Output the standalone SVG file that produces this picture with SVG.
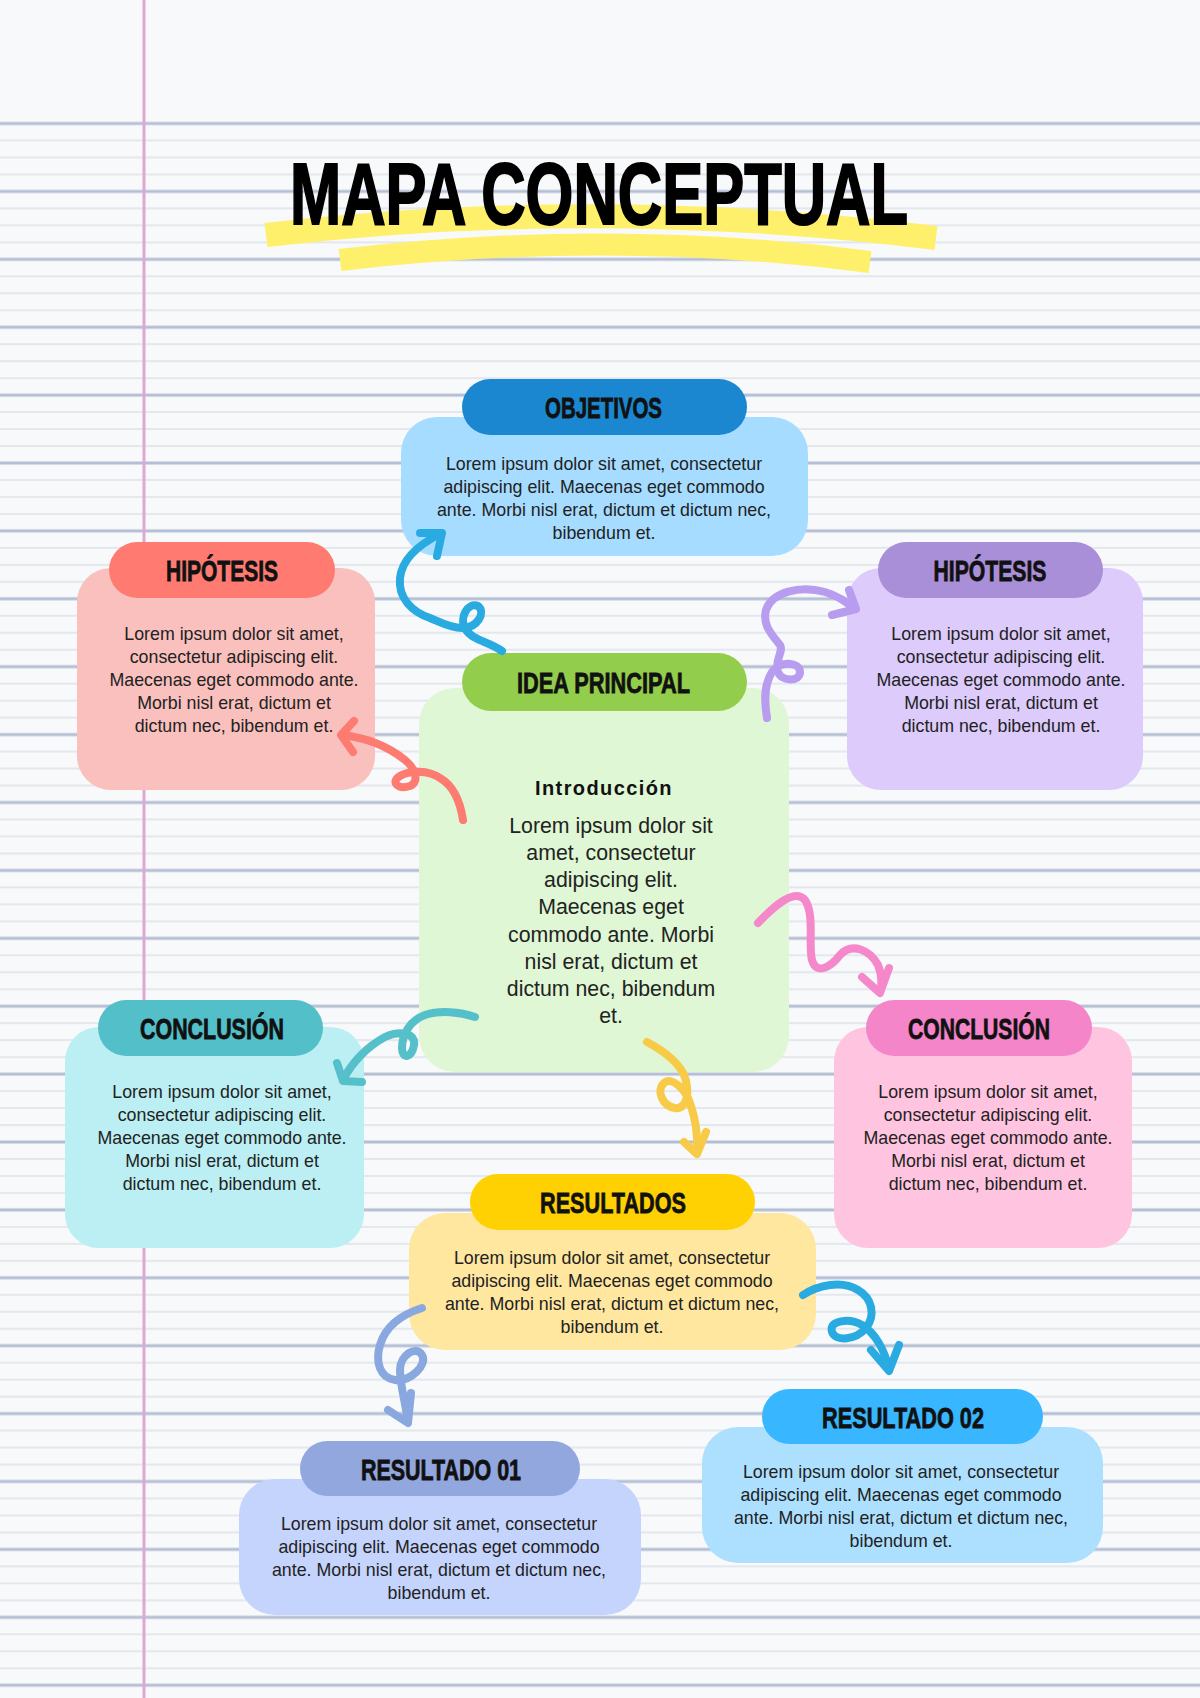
<svg xmlns="http://www.w3.org/2000/svg" width="1200" height="1698" viewBox="0 0 1200 1698">
<defs>
<pattern id="ruled" patternUnits="userSpaceOnUse" x="0" y="115.5" width="1200" height="67.9">
<rect x="0" y="6.5" width="1200" height="3" fill="#b4bfd5"/>
<rect x="0" y="24" width="1200" height="2" fill="#e3e7ee"/>
<rect x="0" y="41" width="1200" height="2" fill="#e3e7ee"/>
<rect x="0" y="58" width="1200" height="2" fill="#e3e7ee"/>
</pattern>
<style>
.hdr{font-family:"Liberation Sans","DejaVu Sans",sans-serif;font-weight:bold;font-size:30px;fill:#111;text-anchor:middle;stroke:#111;stroke-width:0.8}
.body{font-family:"Liberation Sans","DejaVu Sans",sans-serif;font-size:17.8px;fill:#222;text-anchor:middle}
.big{font-family:"Liberation Sans","DejaVu Sans",sans-serif;font-size:21.3px;fill:#222;text-anchor:middle}
.con{fill:none;stroke-width:8;stroke-linecap:round;stroke-linejoin:round}
</style>
</defs>
<rect width="1200" height="1698" fill="#f8f9fa"/>
<rect x="0" y="115.5" width="1200" height="1575" fill="url(#ruled)"/>
<rect x="142.5" y="0" width="3" height="1698" fill="#e2a6d2"/>

<g id="title">
<path d="M266,235 Q600,196 936,238" fill="none" stroke="#fff06b" stroke-width="24" stroke-linecap="butt"/>
<path d="M340,260 Q610,228 870,262" fill="none" stroke="#fff06b" stroke-width="22" stroke-linecap="butt"/>
<text x="599" y="224" font-family="Liberation Sans, DejaVu Sans, sans-serif" font-weight="bold" font-size="88" textLength="618" lengthAdjust="spacingAndGlyphs" text-anchor="middle" fill="#000" stroke="#000" stroke-width="2">MAPA CONCEPTUAL</text>
</g>

<g id="objetivos">
<rect x="401" y="417" width="407" height="139" rx="36" fill="#a6dcff"/>
<rect x="462" y="379" width="285" height="56" rx="28" fill="#1b87d1"/>
<text class="hdr" x="603.5" y="418" textLength="117" lengthAdjust="spacingAndGlyphs">OBJETIVOS</text>
<text class="body" x="604" y="470">Lorem ipsum dolor sit amet, consectetur</text>
<text class="body" x="604" y="493">adipiscing elit. Maecenas eget commodo</text>
<text class="body" x="604" y="516">ante. Morbi nisl erat, dictum et dictum nec,</text>
<text class="body" x="604" y="539">bibendum et.</text>
</g>

<g id="hipotesis-1">
<rect x="77" y="568" width="298" height="222" rx="34" fill="#f9c0bd"/>
<rect x="109" y="542" width="226" height="56" rx="28" fill="#ff7b72"/>
<text class="hdr" x="222" y="581" textLength="112" lengthAdjust="spacingAndGlyphs">HIPÓTESIS</text>
<text class="body" x="234" y="640">Lorem ipsum dolor sit amet,</text>
<text class="body" x="234" y="663">consectetur adipiscing elit.</text>
<text class="body" x="234" y="686">Maecenas eget commodo ante.</text>
<text class="body" x="234" y="709">Morbi nisl erat, dictum et</text>
<text class="body" x="234" y="732">dictum nec, bibendum et.</text>
</g>

<g id="hipotesis-2">
<rect x="847" y="568" width="296" height="222" rx="34" fill="#dccbfb"/>
<rect x="878" y="542" width="225" height="56" rx="28" fill="#a98ed8"/>
<text class="hdr" x="990" y="581" textLength="113" lengthAdjust="spacingAndGlyphs">HIPÓTESIS</text>
<text class="body" x="1001" y="640">Lorem ipsum dolor sit amet,</text>
<text class="body" x="1001" y="663">consectetur adipiscing elit.</text>
<text class="body" x="1001" y="686">Maecenas eget commodo ante.</text>
<text class="body" x="1001" y="709">Morbi nisl erat, dictum et</text>
<text class="body" x="1001" y="732">dictum nec, bibendum et.</text>
</g>

<g id="idea-principal">
<rect x="419" y="688" width="370" height="384" rx="36" fill="#dff7d4"/>
<rect x="462" y="653" width="285" height="58" rx="29" fill="#93cd4c"/>
<text class="hdr" x="603.5" y="693" textLength="173" lengthAdjust="spacingAndGlyphs">IDEA PRINCIPAL</text>
<text x="604" y="795" font-family="Liberation Sans, DejaVu Sans, sans-serif" font-weight="bold" font-size="20" letter-spacing="1.4" text-anchor="middle" fill="#111">Introducción</text>
<text class="big" x="611" y="833">Lorem ipsum dolor sit</text>
<text class="big" x="611" y="860">amet, consectetur</text>
<text class="big" x="611" y="887">adipiscing elit.</text>
<text class="big" x="611" y="914">Maecenas eget</text>
<text class="big" x="611" y="942">commodo ante. Morbi</text>
<text class="big" x="611" y="969">nisl erat, dictum et</text>
<text class="big" x="611" y="996">dictum nec, bibendum</text>
<text class="big" x="611" y="1023">et.</text>
</g>

<g id="conclusion-1">
<rect x="65" y="1027" width="299" height="221" rx="34" fill="#bbeff3"/>
<rect x="98" y="1000" width="225" height="56" rx="28" fill="#53bfc8"/>
<text class="hdr" x="212" y="1039" textLength="144" lengthAdjust="spacingAndGlyphs">CONCLUSIÓN</text>
<text class="body" x="222" y="1098">Lorem ipsum dolor sit amet,</text>
<text class="body" x="222" y="1121">consectetur adipiscing elit.</text>
<text class="body" x="222" y="1144">Maecenas eget commodo ante.</text>
<text class="body" x="222" y="1167">Morbi nisl erat, dictum et</text>
<text class="body" x="222" y="1190">dictum nec, bibendum et.</text>
</g>

<g id="conclusion-2">
<rect x="834" y="1027" width="298" height="221" rx="34" fill="#ffc4e0"/>
<rect x="866" y="1000" width="226" height="56" rx="28" fill="#f585c9"/>
<text class="hdr" x="979" y="1039" textLength="142" lengthAdjust="spacingAndGlyphs">CONCLUSIÓN</text>
<text class="body" x="988" y="1098">Lorem ipsum dolor sit amet,</text>
<text class="body" x="988" y="1121">consectetur adipiscing elit.</text>
<text class="body" x="988" y="1144">Maecenas eget commodo ante.</text>
<text class="body" x="988" y="1167">Morbi nisl erat, dictum et</text>
<text class="body" x="988" y="1190">dictum nec, bibendum et.</text>
</g>

<g id="resultados">
<rect x="409" y="1213" width="407" height="137" rx="36" fill="#ffe7a0"/>
<rect x="470" y="1174" width="285" height="56" rx="28" fill="#ffd102"/>
<text class="hdr" x="613" y="1213" textLength="146" lengthAdjust="spacingAndGlyphs">RESULTADOS</text>
<text class="body" x="612" y="1264">Lorem ipsum dolor sit amet, consectetur</text>
<text class="body" x="612" y="1287">adipiscing elit. Maecenas eget commodo</text>
<text class="body" x="612" y="1310">ante. Morbi nisl erat, dictum et dictum nec,</text>
<text class="body" x="612" y="1333">bibendum et.</text>
</g>

<g id="resultado-01">
<rect x="239" y="1479" width="402" height="136" rx="36" fill="#c5d4fc"/>
<rect x="300" y="1441" width="280" height="55" rx="27.5" fill="#92a7de"/>
<text class="hdr" x="441" y="1480" textLength="160" lengthAdjust="spacingAndGlyphs">RESULTADO 01</text>
<text class="body" x="439" y="1530">Lorem ipsum dolor sit amet, consectetur</text>
<text class="body" x="439" y="1553">adipiscing elit. Maecenas eget commodo</text>
<text class="body" x="439" y="1576">ante. Morbi nisl erat, dictum et dictum nec,</text>
<text class="body" x="439" y="1599">bibendum et.</text>
</g>

<g id="resultado-02">
<rect x="702" y="1427" width="401" height="136" rx="36" fill="#ade0ff"/>
<rect x="762" y="1389" width="281" height="55" rx="27.5" fill="#38b6ff"/>
<text class="hdr" x="903" y="1428" textLength="162" lengthAdjust="spacingAndGlyphs">RESULTADO 02</text>
<text class="body" x="901" y="1478">Lorem ipsum dolor sit amet, consectetur</text>
<text class="body" x="901" y="1501">adipiscing elit. Maecenas eget commodo</text>
<text class="body" x="901" y="1524">ante. Morbi nisl erat, dictum et dictum nec,</text>
<text class="body" x="901" y="1547">bibendum et.</text>
</g>

<g id="connectors">
<path class="con" stroke="#29abe2" d="M502,651 C490,642 472,640 466,630 C458,618 468,602 478,606 C486,612 478,628 462,628 C450,628 440,622 430,618 C412,612 398,598 400,578 C402,560 418,545 440,534"/>
<path class="con" stroke="#29abe2" d="M420,533 L442,533 L437,556"/>
<path class="con" stroke="#b89cf0" d="M767,718 C764,700 764,685 772,672 C780,660 800,662 800,672 C800,682 782,682 778,672 C774,660 784,652 780,645 C772,635 762,625 766,610 C772,592 800,585 825,592 C838,596 847,602 854,609"/>
<path class="con" stroke="#b89cf0" d="M832,615 L856,609 L849,590"/>
<path class="con" stroke="#fd7b70" d="M463,820 C460,800 452,785 440,778 C428,770 410,770 400,776 C390,782 398,790 410,786 C420,782 415,768 405,760 C390,748 370,738 342,735"/>
<path class="con" stroke="#fd7b70" d="M354,721 L341,735 L353,752"/>
<path class="con" stroke="#f587cb" d="M758,923 C775,905 795,888 805,900 C815,915 808,945 812,960 C816,975 830,968 840,955 C852,942 870,950 878,965 C882,975 882,985 880,992"/>
<path class="con" stroke="#f587cb" d="M862,977 L880,993 L889,968"/>
<path class="con" stroke="#55bfca" d="M475,1017 C460,1012 440,1010 425,1015 C410,1020 402,1035 402,1048 C402,1060 412,1058 414,1045 C416,1033 400,1030 385,1037 C368,1046 352,1062 343,1080"/>
<path class="con" stroke="#55bfca" d="M337,1063 L343,1081 L362,1082"/>
<path class="con" stroke="#f7cb47" d="M647,1042 C662,1050 678,1062 684,1075 C690,1090 688,1110 675,1108 C662,1106 656,1090 664,1083 C672,1076 686,1090 690,1103 C696,1120 698,1138 697,1153"/>
<path class="con" stroke="#f7cb47" d="M684,1142 L697,1154 L706,1132"/>
<path class="con" stroke="#8aa8e0" d="M422,1308 C400,1315 385,1328 380,1345 C375,1362 380,1378 395,1380 C410,1382 428,1365 422,1355 C416,1345 400,1355 400,1370 C400,1385 405,1400 408,1422"/>
<path class="con" stroke="#8aa8e0" d="M388,1410 L408,1423 L411,1393"/>
<path class="con" stroke="#29abe2" d="M803,1295 C818,1285 842,1280 858,1290 C872,1298 876,1315 866,1328 C856,1340 836,1342 832,1332 C828,1320 850,1318 862,1325 C875,1333 885,1350 889,1370"/>
<path class="con" stroke="#29abe2" d="M871,1350 L889,1371 L899,1345"/>
</g>
</svg>
